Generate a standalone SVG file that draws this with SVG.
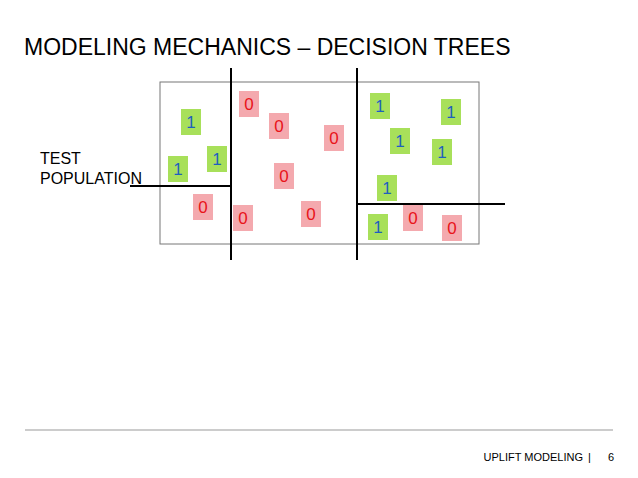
<svg xmlns="http://www.w3.org/2000/svg" width="638" height="478" viewBox="0 0 638 478">
<style>
text{font-family:"Liberation Sans",Arial,sans-serif}
.g rect{fill:#a8e05a}.g text{fill:#1f5fbf;font-size:17px;text-anchor:middle}
.r rect{fill:#f4a9ae}.r text{fill:#e8141a;font-size:17px;text-anchor:middle}
.ln{stroke:#000;stroke-width:2}
</style>
<rect width="638" height="478" fill="#fff"/>
<text x="24" y="55" font-size="23">MODELING MECHANICS – DECISION TREES</text>
<rect id="population" x="160" y="82" width="319" height="162" fill="none" stroke="#777" stroke-width="1"/>
<text x="40" y="164" font-size="16">TEST</text>
<text x="40" y="184" font-size="16">POPULATION</text>
<g id="connectors">
<line class="ln" x1="231" y1="68" x2="231" y2="260"/>
<line class="ln" x1="357" y1="68" x2="357" y2="260"/>
<line class="ln" x1="130" y1="186" x2="231" y2="186"/>
<line class="ln" x1="357" y1="204" x2="505" y2="204"/>
</g>
<g id="g1" class="g"><rect x="181" y="109" width="20" height="26"/><text x="191" y="128">1</text></g>
<g id="g2" class="g"><rect x="207" y="146" width="20" height="26"/><text x="217" y="165">1</text></g>
<g id="g3" class="g"><rect x="168" y="156" width="20" height="26"/><text x="178" y="175">1</text></g>
<g id="g4" class="g"><rect x="370" y="93" width="20" height="26"/><text x="380" y="112">1</text></g>
<g id="g5" class="g"><rect x="441" y="99" width="20" height="26"/><text x="451" y="118">1</text></g>
<g id="g6" class="g"><rect x="390" y="128" width="20" height="26"/><text x="400" y="147">1</text></g>
<g id="g7" class="g"><rect x="432" y="139" width="20" height="26"/><text x="442" y="158">1</text></g>
<g id="g8" class="g"><rect x="377" y="175" width="20" height="26"/><text x="387" y="194">1</text></g>
<g id="g9" class="g"><rect x="368" y="214" width="20" height="26"/><text x="378" y="233">1</text></g>
<g id="r1" class="r"><rect x="239" y="91" width="20" height="26"/><text x="249" y="110">0</text></g>
<g id="r2" class="r"><rect x="269" y="113" width="20" height="26"/><text x="279" y="132">0</text></g>
<g id="r3" class="r"><rect x="324" y="125" width="20" height="26"/><text x="334" y="144">0</text></g>
<g id="r4" class="r"><rect x="274" y="163" width="20" height="26"/><text x="284" y="182">0</text></g>
<g id="r5" class="r"><rect x="193" y="194" width="20" height="26"/><text x="203" y="213">0</text></g>
<g id="r6" class="r"><rect x="233" y="205" width="20" height="26"/><text x="243" y="224">0</text></g>
<g id="r7" class="r"><rect x="301" y="201" width="20" height="26"/><text x="311" y="220">0</text></g>
<g id="r8" class="r"><rect x="403" y="205" width="20" height="26"/><text x="413" y="224">0</text></g>
<g id="r9" class="r"><rect x="442" y="215" width="20" height="26"/><text x="452" y="234">0</text></g>
<line x1="25" y1="430" x2="613" y2="430" stroke="#999" stroke-width="1"/>
<text x="583" y="461" font-size="11" text-anchor="end">UPLIFT MODELING</text>
<text x="588" y="461" font-size="11">|</text>
<text x="608" y="461" font-size="11">6</text>
</svg>
